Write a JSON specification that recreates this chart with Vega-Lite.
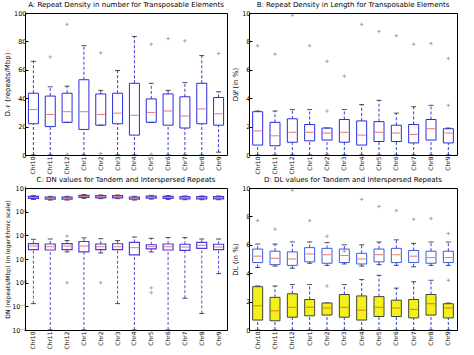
{
"$schema":"https://vega.github.io/schema/vega-lite/v6.json",
"padding":{"left":3,"top":0,"right":8,"bottom":0},
"spacing":0,
"datasets":{
"box":[
{"p":"A","chr":"Chr10","lo":0,"q1":22,"med":32,"q3":43.5,"hi":66},
{"p":"A","chr":"Chr11","lo":0,"q1":20,"med":28.5,"q3":41.5,"hi":48},
{"p":"A","chr":"Chr12","lo":23,"q1":23,"med":30.5,"q3":43.5,"hi":48.5},
{"p":"A","chr":"Chr1","lo":0,"q1":18,"med":30.5,"q3":53,"hi":77},
{"p":"A","chr":"Chr2","lo":21,"q1":21,"med":28.5,"q3":43,"hi":45.5},
{"p":"A","chr":"Chr3","lo":0,"q1":22,"med":29.5,"q3":43.5,"hi":59.5},
{"p":"A","chr":"Chr4","lo":0,"q1":14,"med":28,"q3":50.5,"hi":83.5},
{"p":"A","chr":"Chr5","lo":23,"q1":23,"med":30,"q3":39.5,"hi":50.5},
{"p":"A","chr":"Chr6","lo":0,"q1":21,"med":31,"q3":43,"hi":45.5},
{"p":"A","chr":"Chr7","lo":0,"q1":19,"med":27.5,"q3":41,"hi":51},
{"p":"A","chr":"Chr8","lo":0,"q1":22,"med":32.5,"q3":50.5,"hi":70},
{"p":"A","chr":"Chr9","lo":2,"q1":21,"med":29,"q3":40.5,"hi":44.5},
{"p":"B","chr":"Chr10","lo":0,"q1":0.7,"med":1.7,"q3":3.05,"hi":3.1},
{"p":"B","chr":"Chr11","lo":0,"q1":0.65,"med":1.35,"q3":2.3,"hi":3.1},
{"p":"B","chr":"Chr12","lo":0,"q1":0.9,"med":1.6,"q3":2.55,"hi":3.2},
{"p":"B","chr":"Chr1","lo":0,"q1":1.0,"med":1.6,"q3":2.15,"hi":3.2},
{"p":"B","chr":"Chr2","lo":0,"q1":1.05,"med":1.55,"q3":1.9,"hi":1.9},
{"p":"B","chr":"Chr3","lo":0,"q1":0.9,"med":1.6,"q3":2.5,"hi":3.2},
{"p":"B","chr":"Chr4","lo":0,"q1":0.7,"med":1.4,"q3":2.4,"hi":3.55},
{"p":"B","chr":"Chr5","lo":0,"q1":0.95,"med":1.6,"q3":2.35,"hi":3.85},
{"p":"B","chr":"Chr6","lo":0,"q1":0.95,"med":1.55,"q3":2.1,"hi":2.95},
{"p":"B","chr":"Chr7","lo":0,"q1":0.85,"med":1.45,"q3":2.15,"hi":3.4},
{"p":"B","chr":"Chr8","lo":0,"q1":1.05,"med":1.85,"q3":2.5,"hi":3.5},
{"p":"B","chr":"Chr9","lo":0,"q1":0.85,"med":1.55,"q3":1.85,"hi":1.9},
{"p":"C","chr":"Chr10","lo":3300,"q1":3650,"med":4040,"q3":4450,"hi":4750},
{"p":"C","chr":"Chr11","lo":3100,"q1":3400,"med":3780,"q3":4150,"hi":4450},
{"p":"C","chr":"Chr12","lo":3100,"q1":3400,"med":3780,"q3":4150,"hi":4450},
{"p":"C","chr":"Chr1","lo":3650,"q1":4000,"med":4450,"q3":4900,"hi":5250},
{"p":"C","chr":"Chr2","lo":3550,"q1":3850,"med":4300,"q3":4750,"hi":5050},
{"p":"C","chr":"Chr3","lo":3550,"q1":3850,"med":4300,"q3":4750,"hi":5050},
{"p":"C","chr":"Chr4","lo":3100,"q1":3400,"med":3780,"q3":4150,"hi":4450},
{"p":"C","chr":"Chr5","lo":3400,"q1":3750,"med":4150,"q3":4550,"hi":4900},
{"p":"C","chr":"Chr6","lo":3300,"q1":3650,"med":4040,"q3":4450,"hi":4750},
{"p":"C","chr":"Chr7","lo":3200,"q1":3500,"med":3900,"q3":4300,"hi":4600},
{"p":"C","chr":"Chr8","lo":3200,"q1":3500,"med":3900,"q3":4300,"hi":4600},
{"p":"C","chr":"Chr9","lo":3200,"q1":3500,"med":3900,"q3":4300,"hi":4600},
{"p":"C","chr":"Chr10","lo":0.13,"q1":25,"med":35,"q3":45,"hi":68},
{"p":"C","chr":"Chr11","lo":0.01,"q1":24,"med":33,"q3":43,"hi":70},
{"p":"C","chr":"Chr12","lo":20,"q1":25,"med":35,"q3":45,"hi":60},
{"p":"C","chr":"Chr1","lo":0.01,"q1":20,"med":35,"q3":55,"hi":78},
{"p":"C","chr":"Chr2","lo":18,"q1":25,"med":33,"q3":43,"hi":72},
{"p":"C","chr":"Chr3","lo":0.13,"q1":25,"med":33,"q3":44,"hi":60},
{"p":"C","chr":"Chr4","lo":0.01,"q1":15,"med":30,"q3":50,"hi":85},
{"p":"C","chr":"Chr5","lo":20,"q1":27,"med":33,"q3":40,"hi":75},
{"p":"C","chr":"Chr6","lo":0.01,"q1":24,"med":33,"q3":43,"hi":80},
{"p":"C","chr":"Chr7","lo":0.22,"q1":23,"med":32,"q3":42,"hi":80},
{"p":"C","chr":"Chr8","lo":0.05,"q1":28,"med":38,"q3":50,"hi":70},
{"p":"C","chr":"Chr9","lo":2.4,"q1":25,"med":32,"q3":42,"hi":70},
{"p":"D","chr":"Chr10","lo":4.4,"q1":4.75,"med":5.2,"q3":5.7,"hi":6.05},
{"p":"D","chr":"Chr11","lo":4.5,"q1":4.6,"med":5.05,"q3":5.55,"hi":6.05},
{"p":"D","chr":"Chr12","lo":4.35,"q1":4.55,"med":5.0,"q3":5.5,"hi":6.2},
{"p":"D","chr":"Chr1","lo":4.7,"q1":4.8,"med":5.35,"q3":5.8,"hi":6.2},
{"p":"D","chr":"Chr2","lo":4.55,"q1":4.7,"med":5.3,"q3":5.75,"hi":6.15},
{"p":"D","chr":"Chr3","lo":4.65,"q1":4.75,"med":5.25,"q3":5.7,"hi":6.0},
{"p":"D","chr":"Chr4","lo":4.5,"q1":4.65,"med":5.0,"q3":5.4,"hi":6.0},
{"p":"D","chr":"Chr5","lo":4.6,"q1":4.8,"med":5.3,"q3":5.7,"hi":6.2},
{"p":"D","chr":"Chr6","lo":4.55,"q1":4.75,"med":5.3,"q3":5.75,"hi":6.35},
{"p":"D","chr":"Chr7","lo":4.45,"q1":4.75,"med":5.2,"q3":5.6,"hi":6.1},
{"p":"D","chr":"Chr8","lo":4.55,"q1":4.7,"med":5.1,"q3":5.55,"hi":6.2},
{"p":"D","chr":"Chr9","lo":4.55,"q1":4.75,"med":5.1,"q3":5.55,"hi":6.2}
],
"out":[
{"p":"A","chr":"Chr11","v":69},
{"p":"A","chr":"Chr12","v":92},
{"p":"A","chr":"Chr12","v":0.5},
{"p":"A","chr":"Chr2","v":72},
{"p":"A","chr":"Chr2","v":1},
{"p":"A","chr":"Chr5","v":78},
{"p":"A","chr":"Chr5","v":0.5},
{"p":"A","chr":"Chr6","v":82},
{"p":"A","chr":"Chr7","v":80.5},
{"p":"A","chr":"Chr9","v":71.5},
{"p":"B","chr":"Chr10","v":7.7},
{"p":"B","chr":"Chr11","v":7.1},
{"p":"B","chr":"Chr12","v":9.85},
{"p":"B","chr":"Chr1","v":7.7},
{"p":"B","chr":"Chr2","v":3.1},
{"p":"B","chr":"Chr2","v":6.6},
{"p":"B","chr":"Chr3","v":5.55},
{"p":"B","chr":"Chr4","v":9.2},
{"p":"B","chr":"Chr5","v":8.7},
{"p":"B","chr":"Chr6","v":8.4},
{"p":"B","chr":"Chr7","v":7.8},
{"p":"B","chr":"Chr8","v":7.85},
{"p":"B","chr":"Chr9","v":3.5},
{"p":"B","chr":"Chr9","v":6.8},
{"p":"C","chr":"Chr12","v":92},
{"p":"C","chr":"Chr12","v":1.0},
{"p":"C","chr":"Chr2","v":1.0},
{"p":"C","chr":"Chr5","v":0.6},
{"p":"C","chr":"Chr5","v":0.38}
]
},
"vconcat":[
{"hconcat":[
{"width":202,"height":142,"title":"A: Repeat Density in number for Transposable Elements",
"layer":[
{"data":{"name":"box"},"transform":[{"filter":"datum.p==='A'"}],
"encoding":{"x":{"field":"chr","type":"nominal","sort":["Chr10","Chr11","Chr12","Chr1","Chr2","Chr3","Chr4","Chr5","Chr6","Chr7","Chr8","Chr9"],"title":null}},
"layer":[
{"mark":{"type":"rule","strokeDash":[3,2],"color":"#3a3ae0","strokeWidth":1},"encoding":{"y":{"field":"lo","type":"quantitative","scale":{"domain":[0,100]},"axis":{"values":[0,20,40,60,80,100],"title":"D𝒩 (repeats/Mbp)"}},"y2":{"field":"q1"}}},
{"mark":{"type":"rule","strokeDash":[3,2],"color":"#3a3ae0","strokeWidth":1},"encoding":{"y":{"field":"q3","type":"quantitative","scale":{"domain":[0,100]},"axis":{"values":[0,20,40,60,80,100],"title":"D𝒩 (repeats/Mbp)"}},"y2":{"field":"hi"}}},
{"mark":{"type":"tick","color":"#000000","thickness":1,"size":5},"encoding":{"y":{"field":"lo","type":"quantitative","scale":{"domain":[0,100]},"axis":{"values":[0,20,40,60,80,100],"title":"D𝒩 (repeats/Mbp)"}}}},
{"mark":{"type":"tick","color":"#000000","thickness":1,"size":5},"encoding":{"y":{"field":"hi","type":"quantitative","scale":{"domain":[0,100]},"axis":{"values":[0,20,40,60,80,100],"title":"D𝒩 (repeats/Mbp)"}}}},
{"mark":{"type":"bar","size":10,"fill":"#ffffff","fillOpacity":0,"stroke":"#2b2bdc","strokeWidth":1},"encoding":{"y":{"field":"q1","type":"quantitative","scale":{"domain":[0,100]},"axis":{"values":[0,20,40,60,80,100],"title":"D𝒩 (repeats/Mbp)"}},"y2":{"field":"q3"}}},
{"mark":{"type":"tick","color":"#e03a3a","thickness":1,"size":8},"encoding":{"y":{"field":"med","type":"quantitative","scale":{"domain":[0,100]},"axis":{"values":[0,20,40,60,80,100],"title":"D𝒩 (repeats/Mbp)"}}}}
]},
{"data":{"name":"out"},"transform":[{"filter":"datum.p==='A'"}],
"mark":{"type":"point","shape":"M-1,0H1M0,-1V1","size":12,"filled":false,"stroke":"#666688","strokeWidth":0.8},
"encoding":{"x":{"field":"chr","type":"nominal","sort":["Chr10","Chr11","Chr12","Chr1","Chr2","Chr3","Chr4","Chr5","Chr6","Chr7","Chr8","Chr9"],"title":null},"y":{"field":"v","type":"quantitative","scale":{"domain":[0,100]},"axis":{"values":[0,20,40,60,80,100],"title":"D𝒩 (repeats/Mbp)"}}}}
]},
{"width":208,"height":142,"title":"B: Repeat Density in Length for Transposable Elements",
"layer":[
{"data":{"name":"box"},"transform":[{"filter":"datum.p==='B'"}],
"encoding":{"x":{"field":"chr","type":"nominal","sort":["Chr10","Chr11","Chr12","Chr1","Chr2","Chr3","Chr4","Chr5","Chr6","Chr7","Chr8","Chr9"],"title":null}},
"layer":[
{"mark":{"type":"rule","strokeDash":[3,2],"color":"#3a3ae0","strokeWidth":1},"encoding":{"y":{"field":"lo","type":"quantitative","scale":{"domain":[0,10]},"axis":{"values":[0,2,4,6,8,10],"title":"D𝓛 (in %)"}},"y2":{"field":"q1"}}},
{"mark":{"type":"rule","strokeDash":[3,2],"color":"#3a3ae0","strokeWidth":1},"encoding":{"y":{"field":"q3","type":"quantitative","scale":{"domain":[0,10]},"axis":{"values":[0,2,4,6,8,10],"title":"D𝓛 (in %)"}},"y2":{"field":"hi"}}},
{"mark":{"type":"tick","color":"#000000","thickness":1,"size":5},"encoding":{"y":{"field":"lo","type":"quantitative","scale":{"domain":[0,10]},"axis":{"values":[0,2,4,6,8,10],"title":"D𝓛 (in %)"}}}},
{"mark":{"type":"tick","color":"#000000","thickness":1,"size":5},"encoding":{"y":{"field":"hi","type":"quantitative","scale":{"domain":[0,10]},"axis":{"values":[0,2,4,6,8,10],"title":"D𝓛 (in %)"}}}},
{"mark":{"type":"bar","size":10,"fill":"#ffffff","fillOpacity":0,"stroke":"#2b2bdc","strokeWidth":1},"encoding":{"y":{"field":"q1","type":"quantitative","scale":{"domain":[0,10]},"axis":{"values":[0,2,4,6,8,10],"title":"D𝓛 (in %)"}},"y2":{"field":"q3"}}},
{"mark":{"type":"tick","color":"#e03a3a","thickness":1,"size":8},"encoding":{"y":{"field":"med","type":"quantitative","scale":{"domain":[0,10]},"axis":{"values":[0,2,4,6,8,10],"title":"D𝓛 (in %)"}}}}
]},
{"data":{"name":"out"},"transform":[{"filter":"datum.p==='B'"}],
"mark":{"type":"point","shape":"M-1,0H1M0,-1V1","size":12,"filled":false,"stroke":"#666688","strokeWidth":0.8},
"encoding":{"x":{"field":"chr","type":"nominal","sort":["Chr10","Chr11","Chr12","Chr1","Chr2","Chr3","Chr4","Chr5","Chr6","Chr7","Chr8","Chr9"],"title":null},"y":{"field":"v","type":"quantitative","scale":{"domain":[0,10]},"axis":{"values":[0,2,4,6,8,10],"title":"D𝓛 (in %)"}}}}
]}
]},
{"hconcat":[
{"width":202,"height":142,"title":"C: DN values for Tandem and Interspersed Repeats",
"layer":[
{"data":{"name":"box"},"transform":[{"filter":"datum.p==='C'"}],
"encoding":{"x":{"field":"chr","type":"nominal","sort":["Chr10","Chr11","Chr12","Chr1","Chr2","Chr3","Chr4","Chr5","Chr6","Chr7","Chr8","Chr9"],"title":null}},
"layer":[
{"mark":{"type":"rule","strokeDash":[3,2],"color":"#5a4ae0","strokeWidth":1},"encoding":{"y":{"field":"lo","type":"quantitative","scale":{"type":"log","domain":[0.01,10000]},"axis":{"values":[0.01,0.1,1,10,100,1000,10000],"labelExpr":"['10⁻²','10⁻¹','10⁰','10¹','10²','10³','10⁴'][round(log(datum.value)/LN10)+2]","title":"DN (repeats/Mbp) (in logarithmic scale)","titlePadding":1,"titleFontSize":6}},"y2":{"field":"q1"}}},
{"mark":{"type":"rule","strokeDash":[3,2],"color":"#5a4ae0","strokeWidth":1},"encoding":{"y":{"field":"q3","type":"quantitative","scale":{"type":"log","domain":[0.01,10000]},"axis":{"values":[0.01,0.1,1,10,100,1000,10000],"labelExpr":"['10⁻²','10⁻¹','10⁰','10¹','10²','10³','10⁴'][round(log(datum.value)/LN10)+2]","title":"DN (repeats/Mbp) (in logarithmic scale)","titlePadding":1,"titleFontSize":6}},"y2":{"field":"hi"}}},
{"mark":{"type":"tick","color":"#000000","thickness":1,"size":5},"encoding":{"y":{"field":"lo","type":"quantitative","scale":{"type":"log","domain":[0.01,10000]},"axis":{"values":[0.01,0.1,1,10,100,1000,10000],"labelExpr":"['10⁻²','10⁻¹','10⁰','10¹','10²','10³','10⁴'][round(log(datum.value)/LN10)+2]","title":"DN (repeats/Mbp) (in logarithmic scale)","titlePadding":1,"titleFontSize":6}}}},
{"mark":{"type":"tick","color":"#000000","thickness":1,"size":5},"encoding":{"y":{"field":"hi","type":"quantitative","scale":{"type":"log","domain":[0.01,10000]},"axis":{"values":[0.01,0.1,1,10,100,1000,10000],"labelExpr":"['10⁻²','10⁻¹','10⁰','10¹','10²','10³','10⁴'][round(log(datum.value)/LN10)+2]","title":"DN (repeats/Mbp) (in logarithmic scale)","titlePadding":1,"titleFontSize":6}}}},
{"mark":{"type":"bar","size":10,"fill":"#ffffff","fillOpacity":0,"stroke":"#4a3adc","strokeWidth":1.2},"encoding":{"y":{"field":"q1","type":"quantitative","scale":{"type":"log","domain":[0.01,10000]},"axis":{"values":[0.01,0.1,1,10,100,1000,10000],"labelExpr":"['10⁻²','10⁻¹','10⁰','10¹','10²','10³','10⁴'][round(log(datum.value)/LN10)+2]","title":"DN (repeats/Mbp) (in logarithmic scale)","titlePadding":1,"titleFontSize":6}},"y2":{"field":"q3"}}},
{"mark":{"type":"tick","color":"#e03a3a","thickness":1,"size":8},"encoding":{"y":{"field":"med","type":"quantitative","scale":{"type":"log","domain":[0.01,10000]},"axis":{"values":[0.01,0.1,1,10,100,1000,10000],"labelExpr":"['10⁻²','10⁻¹','10⁰','10¹','10²','10³','10⁴'][round(log(datum.value)/LN10)+2]","title":"DN (repeats/Mbp) (in logarithmic scale)","titlePadding":1,"titleFontSize":6}}}}
]},
{"data":{"name":"out"},"transform":[{"filter":"datum.p==='C'"}],
"mark":{"type":"point","shape":"M-1,0H1M0,-1V1","size":12,"filled":false,"stroke":"#666688","strokeWidth":0.8},
"encoding":{"x":{"field":"chr","type":"nominal","sort":["Chr10","Chr11","Chr12","Chr1","Chr2","Chr3","Chr4","Chr5","Chr6","Chr7","Chr8","Chr9"],"title":null},"y":{"field":"v","type":"quantitative","scale":{"type":"log","domain":[0.01,10000]},"axis":{"values":[0.01,0.1,1,10,100,1000,10000],"labelExpr":"['10⁻²','10⁻¹','10⁰','10¹','10²','10³','10⁴'][round(log(datum.value)/LN10)+2]","title":"DN (repeats/Mbp) (in logarithmic scale)","titlePadding":1,"titleFontSize":6}}}}
]},
{"width":208,"height":142,"title":"D: DL values for Tandem and Interspersed Repeats",
"layer":[
{"data":{"name":"box"},"transform":[{"filter":"datum.p==='B'"}],
"encoding":{"x":{"field":"chr","type":"nominal","sort":["Chr10","Chr11","Chr12","Chr1","Chr2","Chr3","Chr4","Chr5","Chr6","Chr7","Chr8","Chr9"],"title":null}},
"layer":[
{"mark":{"type":"rule","strokeDash":[3,2],"color":"#3a3ae0","strokeWidth":1},"encoding":{"y":{"field":"lo","type":"quantitative","scale":{"domain":[0,10]},"axis":{"values":[0,2,4,6,8,10],"title":"DL (in %)"}},"y2":{"field":"q1"}}},
{"mark":{"type":"rule","strokeDash":[3,2],"color":"#3a3ae0","strokeWidth":1},"encoding":{"y":{"field":"q3","type":"quantitative","scale":{"domain":[0,10]},"axis":{"values":[0,2,4,6,8,10],"title":"DL (in %)"}},"y2":{"field":"hi"}}},
{"mark":{"type":"tick","color":"#000000","thickness":1,"size":5},"encoding":{"y":{"field":"lo","type":"quantitative","scale":{"domain":[0,10]},"axis":{"values":[0,2,4,6,8,10],"title":"DL (in %)"}}}},
{"mark":{"type":"tick","color":"#000000","thickness":1,"size":5},"encoding":{"y":{"field":"hi","type":"quantitative","scale":{"domain":[0,10]},"axis":{"values":[0,2,4,6,8,10],"title":"DL (in %)"}}}},
{"mark":{"type":"bar","size":10,"fill":"#f2f21a","stroke":"#444433","strokeWidth":1},"encoding":{"y":{"field":"q1","type":"quantitative","scale":{"domain":[0,10]},"axis":{"values":[0,2,4,6,8,10],"title":"DL (in %)"}},"y2":{"field":"q3"}}},
{"mark":{"type":"tick","color":"#e03a3a","thickness":1,"size":8},"encoding":{"y":{"field":"med","type":"quantitative","scale":{"domain":[0,10]},"axis":{"values":[0,2,4,6,8,10],"title":"DL (in %)"}}}}
]},
{"data":{"name":"box"},"transform":[{"filter":"datum.p==='D'"}],
"encoding":{"x":{"field":"chr","type":"nominal","sort":["Chr10","Chr11","Chr12","Chr1","Chr2","Chr3","Chr4","Chr5","Chr6","Chr7","Chr8","Chr9"],"title":null}},
"layer":[
{"mark":{"type":"rule","strokeDash":[3,2],"color":"#3a3ae0","strokeWidth":1},"encoding":{"y":{"field":"lo","type":"quantitative","scale":{"domain":[0,10]},"axis":{"values":[0,2,4,6,8,10],"title":"DL (in %)"}},"y2":{"field":"q1"}}},
{"mark":{"type":"rule","strokeDash":[3,2],"color":"#3a3ae0","strokeWidth":1},"encoding":{"y":{"field":"q3","type":"quantitative","scale":{"domain":[0,10]},"axis":{"values":[0,2,4,6,8,10],"title":"DL (in %)"}},"y2":{"field":"hi"}}},
{"mark":{"type":"tick","color":"#000000","thickness":1,"size":5},"encoding":{"y":{"field":"lo","type":"quantitative","scale":{"domain":[0,10]},"axis":{"values":[0,2,4,6,8,10],"title":"DL (in %)"}}}},
{"mark":{"type":"tick","color":"#000000","thickness":1,"size":5},"encoding":{"y":{"field":"hi","type":"quantitative","scale":{"domain":[0,10]},"axis":{"values":[0,2,4,6,8,10],"title":"DL (in %)"}}}},
{"mark":{"type":"bar","size":10,"fill":"#ffffff","fillOpacity":0,"stroke":"#3a5ae8","strokeWidth":1},"encoding":{"y":{"field":"q1","type":"quantitative","scale":{"domain":[0,10]},"axis":{"values":[0,2,4,6,8,10],"title":"DL (in %)"}},"y2":{"field":"q3"}}},
{"mark":{"type":"tick","color":"#e03a3a","thickness":1,"size":8},"encoding":{"y":{"field":"med","type":"quantitative","scale":{"domain":[0,10]},"axis":{"values":[0,2,4,6,8,10],"title":"DL (in %)"}}}}
]},
{"data":{"name":"out"},"transform":[{"filter":"datum.p==='B'"}],
"mark":{"type":"point","shape":"M-1,0H1M0,-1V1","size":12,"filled":false,"stroke":"#666688","strokeWidth":0.8},
"encoding":{"x":{"field":"chr","type":"nominal","sort":["Chr10","Chr11","Chr12","Chr1","Chr2","Chr3","Chr4","Chr5","Chr6","Chr7","Chr8","Chr9"],"title":null},"y":{"field":"v","type":"quantitative","scale":{"domain":[0,10]},"axis":{"values":[0,2,4,6,8,10],"title":"DL (in %)"}}}}
]}
]}
],
"config":{
"font":"DejaVu Sans",
"view":{"stroke":"#000000","strokeWidth":1},
"axis":{"domain":false,"grid":false,"labelFontSize":6.5,"titleFontSize":7,"titleFontWeight":"normal","labelColor":"#000000","titleColor":"#000000","tickColor":"#000000"},
"axisX":{"labelAngle":-90,"ticks":false,"labelPadding":1,"labelFontSize":6,"labelBaseline":"middle","labelAlign":"right"},
"axisY":{"tickSize":-3,"labelPadding":2,"titlePadding":3},
"title":{"fontSize":7,"fontWeight":"normal","offset":2,"color":"#000000"},
"concat":{"spacing":3}
}
}
